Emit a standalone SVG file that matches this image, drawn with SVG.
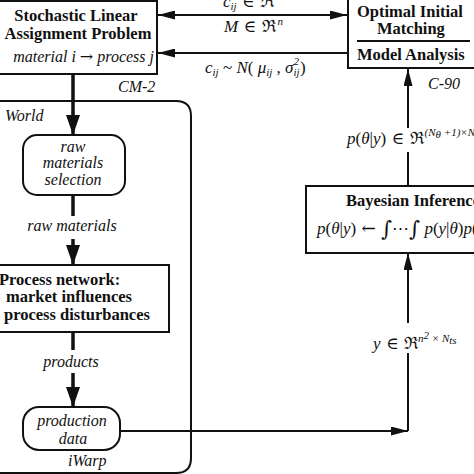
<svg xmlns="http://www.w3.org/2000/svg" width="474" height="474" viewBox="0 0 474 474">
<style>
.box{fill:#fff;stroke:#111;stroke-width:2}
.cont{fill:none;stroke:#111;stroke-width:2}
.thick{stroke:#111;stroke-width:3.5;fill:none}
.thin{stroke:#111;stroke-width:2;fill:none}
text{font-family:"Liberation Serif","DejaVu Serif",serif;fill:#111}
.b{font-weight:bold;font-size:16.5px}
.i{font-style:italic;font-size:16px}
.m{font-size:17px}
.mi{font-style:italic}
.sub{font-size:11px;font-style:italic}
.sym{font-family:"DejaVu Serif","Liberation Serif",serif;font-style:normal}
</style>
<defs>
<marker id="ahT" markerUnits="userSpaceOnUse" markerWidth="20" markerHeight="14" refX="20" refY="7" orient="auto"><path d="M0,0 L20,7 L0,14 z" fill="#111"/></marker>
<marker id="ahS" markerUnits="userSpaceOnUse" markerWidth="17" markerHeight="9" refX="17" refY="4.5" orient="auto-start-reverse"><path d="M0,0 L17,4.5 L0,9 z" fill="#111"/></marker>
</defs>

<g id="world">
<path class="cont" d="M-20,101 H176 Q191,101 191,116 V458 Q191,473 176,473 H-20"/>
<text class="i" x="5" y="121">World</text>
<text class="i" x="68" y="466">iWarp</text>
</g>

<g id="connectors">
<line class="thick" x1="73" y1="75" x2="73" y2="135" marker-end="url(#ahT)"/>
<line class="thick" x1="73" y1="195" x2="73" y2="216"/>
<line class="thick" x1="73" y1="239" x2="73" y2="265" marker-end="url(#ahT)"/>
<line class="thick" x1="73" y1="332" x2="73" y2="350"/>
<line class="thick" x1="73" y1="373" x2="73" y2="407" marker-end="url(#ahT)"/>
<line class="thin" x1="158" y1="15" x2="347" y2="15" marker-start="url(#ahS)" marker-end="url(#ahS)"/>
<line class="thin" x1="347" y1="53" x2="158" y2="53" marker-end="url(#ahS)"/>
<line class="thin" x1="120" y1="431" x2="408" y2="431" marker-end="url(#ahS)"/>
<line class="thin" x1="408" y1="431" x2="408" y2="353"/>
<line class="thin" x1="408" y1="323" x2="408" y2="253" marker-end="url(#ahS)"/>
<line class="thin" x1="408" y1="186" x2="408" y2="152"/>
<line class="thin" x1="408" y1="128" x2="408" y2="69" marker-end="url(#ahS)"/>
<text class="m" x="223" y="7"><tspan class="mi">c</tspan><tspan class="sub" dy="3">ij</tspan><tspan class="sym" dy="-3"> ∈ ℜ</tspan></text>
<text class="m" x="224" y="32"><tspan class="mi">M</tspan><tspan class="sym"> ∈ ℜ</tspan><tspan class="sub" dx="2" dy="-7">n</tspan></text>
<text class="m" x="205" y="73"><tspan class="mi">c</tspan><tspan class="sub" dy="3">ij</tspan><tspan dy="-3"> ~ </tspan><tspan class="mi">N</tspan><tspan>( </tspan><tspan class="mi">μ</tspan><tspan class="sub" dy="3">ij</tspan><tspan dy="-3"> , </tspan><tspan class="mi">σ</tspan><tspan class="sub" dy="3">ij</tspan><tspan class="sub" dx="-6" dy="-11">2</tspan><tspan dx="1" dy="8">)</tspan></text>
<text class="i" x="72" y="231" text-anchor="middle">raw materials</text>
<text class="i" x="71" y="367" text-anchor="middle">products</text>
<text class="m" x="347" y="144"><tspan class="mi">p</tspan><tspan>(</tspan><tspan class="mi">θ</tspan><tspan>|</tspan><tspan class="mi">y</tspan><tspan>)</tspan><tspan class="sym"> ∈ ℜ</tspan><tspan class="sub" dx="1" dy="-8">(N</tspan><tspan class="sub" font-size="8" dy="2">θ</tspan><tspan class="sub" dy="-2"> +1)×N</tspan><tspan class="sub" font-size="8" dy="2">s</tspan></text>
<text class="m" x="373" y="349"><tspan class="mi">y</tspan><tspan class="sym"> ∈ ℜ</tspan><tspan class="sub" font-size="10" dy="-7">n</tspan><tspan class="sub" font-size="7" dy="-3">2</tspan><tspan class="sub" font-size="10" dy="3"> × N</tspan><tspan class="sub" font-size="7" dy="2">ts</tspan></text>
</g>

<g id="slap">
<rect class="box" x="-10" y="1" width="167" height="73"/>
<text class="b" x="76" y="21" text-anchor="middle">Stochastic Linear</text>
<text class="b" x="78" y="39" text-anchor="middle">Assignment Problem</text>
<text class="i" x="154" y="62" text-anchor="end" font-size="17">material i <tspan class="sym">→</tspan> process j</text>
<text class="i" x="118" y="92" font-size="17">CM-2</text>
</g>

<g id="oim">
<rect class="box" x="348" y="-10" width="140" height="78"/>
<text class="b" x="357" y="17">Optimal Initial</text>
<text class="b" x="377" y="34">Matching</text>
<line class="thin" x1="357" y1="41" x2="470" y2="41"/>
<text class="b" x="357" y="60">Model Analysis</text>
<text class="i" x="428" y="89" font-size="17">C-90</text>
</g>

<g id="rms">
<rect class="box" x="23" y="135" width="102" height="60" rx="14"/>
<text class="i" x="73" y="152" text-anchor="middle">raw</text>
<text class="i" x="73" y="168" text-anchor="middle">materials</text>
<text class="i" x="73" y="185" text-anchor="middle">selection</text>
</g>

<g id="pn">
<rect class="box" x="-10" y="265" width="179" height="67"/>
<text class="b" x="-1" y="285">Process network:</text>
<text class="b" x="6" y="302">market influences</text>
<text class="b" x="4" y="320">process disturbances</text>
</g>

<g id="pd">
<rect class="box" x="23" y="407" width="97" height="43" rx="16"/>
<text class="i" x="72" y="426" text-anchor="middle">production</text>
<text class="i" x="73" y="444" text-anchor="middle">data</text>
</g>

<g id="bi">
<rect class="box" x="306" y="186" width="180" height="67"/>
<text class="b" x="346" y="206">Bayesian Inference</text>
<text class="m" x="317" y="234"><tspan class="mi">p</tspan><tspan>(</tspan><tspan class="mi">θ</tspan><tspan>|</tspan><tspan class="mi">y</tspan><tspan>)</tspan><tspan class="sym"> ← </tspan><tspan class="sym" font-size="21" dy="2">∫</tspan><tspan class="sym" dy="-2">⋯</tspan><tspan class="sym" font-size="21" dy="2">∫</tspan><tspan dy="-2"> </tspan><tspan class="mi">p</tspan><tspan>(</tspan><tspan class="mi">y</tspan><tspan>|</tspan><tspan class="mi">θ</tspan><tspan>)</tspan><tspan class="mi">p</tspan><tspan>(</tspan><tspan class="mi">θ</tspan><tspan>)</tspan></text>
</g>
</svg>
